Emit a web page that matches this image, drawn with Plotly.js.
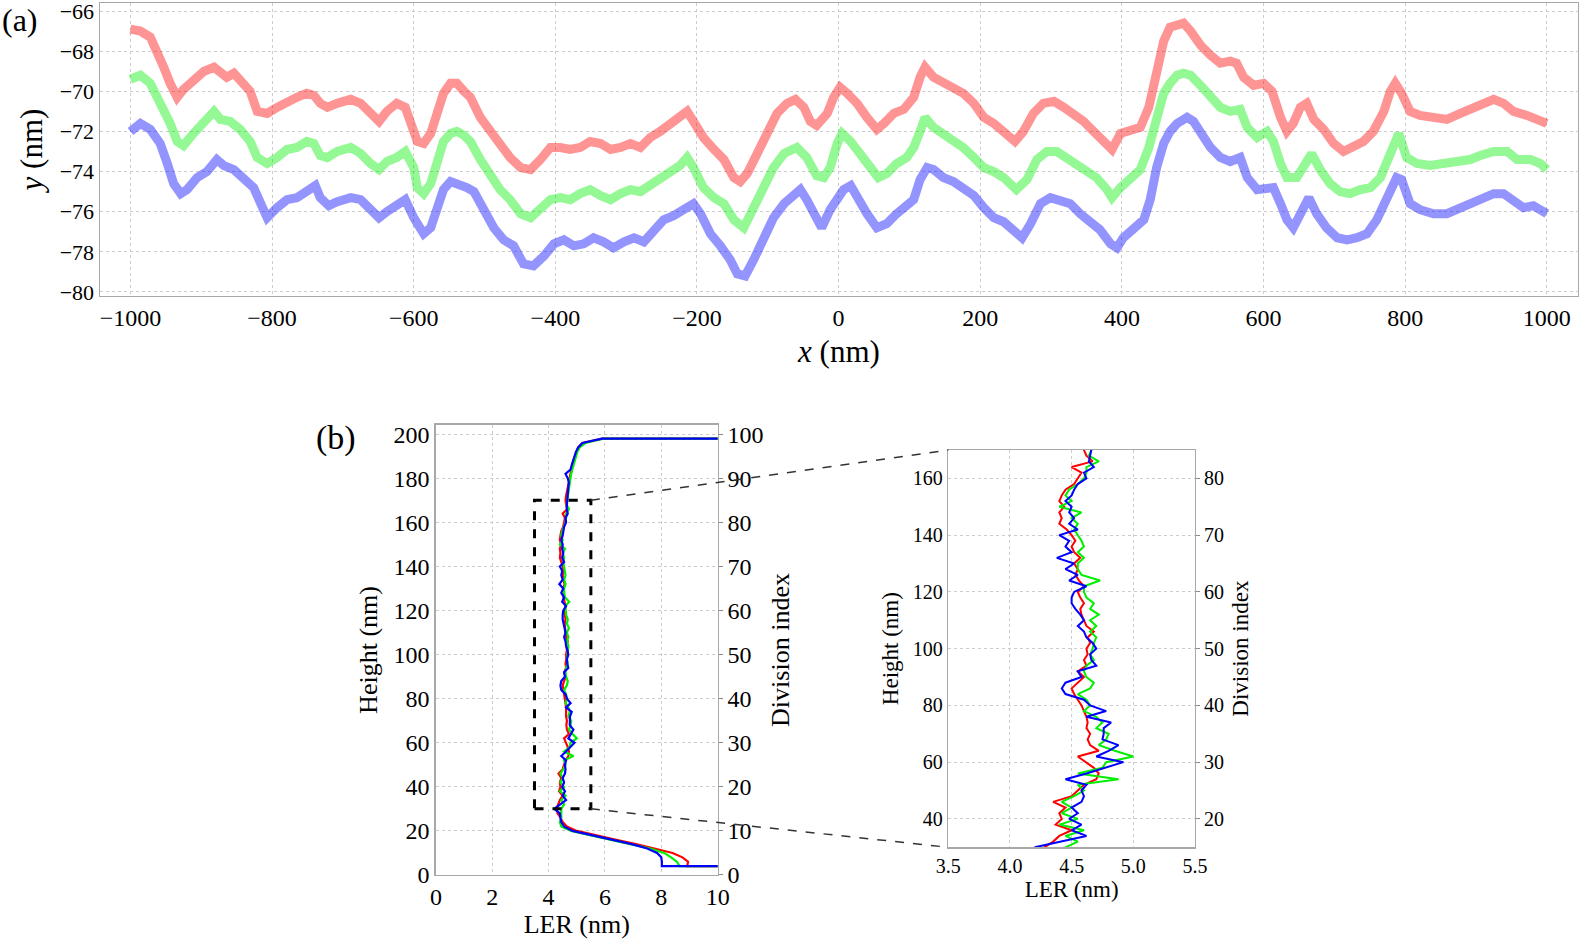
<!DOCTYPE html>
<html>
<head>
<meta charset="utf-8">
<script src="https://cdn.plot.ly/plotly-3.0.1.min.js"></script>
<style>html,body{margin:0;padding:0;background:#fff;}#chart{width:1580px;height:945px;}</style>
</head>
<body>
<div id="chart"></div>
<script>
// ---------- Panel (a): edge profiles ----------
const redX = [-1000,-986,-972,-962,-953,-944,-934,-925,-911,-896,-882,-873,-864,-854,-845,-831,-821,-807,-793,-779,-765,-751,-741,-732,-722,-708,-689,-675,-661,-649,-638,-624,-612,-600,-595,-586,-576,-567,-558,-548,-539,-529,-520,-506,-492,-478,-464,-449,-435,-421,-407,-393,-379,-365,-351,-336,-322,-308,-294,-280,-266,-252,-238,-224,-214,-205,-191,-176,-162,-148,-139,-129,-115,-101,-87,-73,-61,-49,-40,-31,-16,-7,2,12,26,40,54,64,78,92,106,115,122,134,148,162,176,191,205,219,233,249,261,275,289,304,318,332,346,360,374,386,398,412,426,438,449,459,468,478,487,497,511,525,539,553,562,572,586,600,612,624,633,642,652,661,671,685,699,713,727,741,755,770,779,786,795,807,821,840,859,878,897,911,925,939,953,972,986,1000];
const redY = [-66.9,-67.0,-67.3,-68.0,-68.8,-69.6,-70.3,-69.9,-69.4,-69.0,-68.8,-69.1,-69.3,-69.1,-69.4,-70.0,-71.0,-71.1,-70.8,-70.5,-70.3,-70.1,-70.2,-70.6,-70.8,-70.6,-70.4,-70.6,-71.1,-71.5,-71.0,-70.6,-70.8,-71.8,-72.5,-72.6,-72.1,-71.1,-70.1,-69.6,-69.6,-70.0,-70.3,-71.3,-72.0,-72.6,-73.3,-73.8,-73.9,-73.4,-72.8,-72.8,-72.9,-72.8,-72.5,-72.6,-72.9,-72.8,-72.6,-72.8,-72.3,-72.0,-71.6,-71.3,-71.0,-71.5,-72.3,-72.9,-73.4,-74.3,-74.5,-74.1,-73.1,-72.1,-71.1,-70.6,-70.4,-70.8,-71.5,-71.7,-71.1,-70.3,-69.8,-70.1,-70.6,-71.3,-71.9,-71.6,-71.1,-70.9,-70.3,-69.3,-68.8,-69.3,-69.6,-69.8,-70.1,-70.6,-71.3,-71.6,-72.0,-72.5,-72.0,-71.1,-70.6,-70.5,-70.8,-71.1,-71.5,-72.0,-72.5,-72.9,-72.1,-71.9,-71.8,-70.8,-69.1,-67.5,-66.8,-66.7,-66.6,-67.0,-67.7,-68.2,-68.6,-68.5,-68.6,-69.3,-69.7,-69.6,-70.0,-71.3,-72.0,-71.6,-70.8,-70.6,-71.4,-71.9,-72.6,-73.0,-72.7,-72.5,-72.0,-71.0,-70.0,-69.6,-70.1,-71.0,-71.2,-71.3,-71.4,-71.1,-70.8,-70.6,-70.4,-70.6,-71.0,-71.2,-71.4,-71.6];

const greenX = [-1000,-986,-972,-958,-944,-934,-925,-911,-896,-882,-873,-859,-845,-831,-821,-807,-793,-779,-765,-751,-741,-732,-722,-708,-689,-675,-661,-649,-638,-624,-612,-600,-595,-586,-576,-567,-558,-548,-539,-529,-520,-506,-492,-478,-464,-449,-435,-421,-407,-393,-379,-365,-351,-336,-322,-308,-294,-280,-266,-252,-238,-224,-214,-205,-191,-176,-162,-148,-134,-120,-106,-92,-77,-59,-45,-31,-21,-12,-2,5,17,31,45,56,68,82,96,106,115,122,134,148,162,176,191,205,219,233,251,266,280,294,308,322,336,350,364,379,386,398,412,426,438,449,459,468,478,487,497,511,525,539,553,567,577,591,605,614,624,633,647,661,668,680,694,708,722,737,751,765,779,791,802,817,835,854,873,892,906,925,944,958,977,991,1000];
const greenY = [-69.4,-69.2,-69.6,-70.5,-71.6,-72.5,-72.7,-72.1,-71.5,-71.0,-71.4,-71.5,-71.9,-72.5,-73.3,-73.6,-73.3,-72.9,-72.8,-72.5,-72.6,-73.2,-73.3,-73.0,-72.8,-73.1,-73.6,-73.9,-73.5,-73.3,-73.0,-73.8,-74.8,-75.1,-74.6,-73.6,-72.5,-72.1,-72.0,-72.2,-72.5,-73.4,-74.1,-74.9,-75.4,-76.1,-76.3,-75.8,-75.4,-75.3,-75.4,-75.1,-74.9,-75.2,-75.4,-75.1,-74.9,-75.0,-74.7,-74.4,-74.1,-73.7,-73.3,-73.8,-74.8,-75.3,-75.6,-76.4,-76.8,-75.8,-74.8,-73.8,-73.1,-72.8,-73.3,-74.2,-74.3,-73.8,-72.6,-72.1,-72.5,-73.1,-73.8,-74.3,-74.1,-73.6,-73.3,-72.8,-72.0,-71.3,-71.8,-72.1,-72.5,-72.8,-73.3,-73.8,-74.0,-74.3,-74.9,-74.4,-73.4,-73.0,-73.0,-73.3,-73.6,-73.9,-74.3,-74.9,-75.3,-74.8,-74.3,-73.9,-72.8,-71.3,-70.1,-69.6,-69.2,-69.1,-69.2,-69.7,-70.3,-70.8,-71.0,-70.9,-71.8,-72.3,-72.0,-72.5,-73.6,-74.3,-74.3,-73.4,-73.1,-73.9,-74.6,-75.0,-75.1,-74.9,-74.8,-74.3,-73.1,-72.1,-73.3,-73.6,-73.7,-73.6,-73.6,-73.4,-73.2,-73.0,-73.0,-73.4,-73.4,-73.6,-73.9];

const blueX = [-1000,-986,-972,-958,-948,-939,-929,-920,-906,-892,-878,-868,-854,-840,-826,-816,-807,-793,-779,-765,-751,-739,-732,-720,-708,-689,-675,-661,-649,-638,-624,-612,-600,-595,-586,-576,-567,-558,-548,-539,-525,-515,-501,-487,-473,-459,-445,-431,-416,-402,-388,-374,-360,-346,-332,-318,-303,-289,-275,-261,-247,-233,-219,-205,-195,-181,-167,-153,-143,-132,-120,-106,-92,-77,-63,-54,-45,-31,-24,-12,-2,7,17,26,40,54,68,82,96,106,115,125,134,148,162,176,191,205,219,233,247,259,271,285,299,313,327,341,355,369,384,393,402,416,431,440,449,459,468,478,492,501,511,525,539,553,567,577,591,605,614,624,633,642,652,664,675,689,704,718,732,746,760,774,788,795,807,821,840,859,878,897,911,925,939,953,967,981,1000];
const blueY = [-72.0,-71.6,-71.9,-72.6,-73.6,-74.6,-75.1,-74.9,-74.3,-74.0,-73.4,-73.7,-73.9,-74.4,-74.8,-75.6,-76.3,-75.8,-75.4,-75.3,-74.9,-74.7,-75.3,-75.7,-75.5,-75.3,-75.4,-75.9,-76.3,-76.0,-75.7,-75.4,-76.3,-76.6,-77.1,-76.8,-75.9,-74.9,-74.5,-74.6,-74.8,-75.0,-75.9,-76.8,-77.4,-77.7,-78.6,-78.7,-78.2,-77.6,-77.4,-77.7,-77.6,-77.3,-77.5,-77.8,-77.5,-77.3,-77.5,-76.9,-76.4,-76.2,-75.9,-75.6,-76.1,-77.1,-77.7,-78.4,-79.1,-79.2,-78.4,-77.3,-76.3,-75.6,-75.1,-74.9,-75.4,-76.4,-76.8,-75.9,-75.4,-74.9,-74.7,-75.3,-76.1,-76.8,-76.6,-76.1,-75.6,-75.4,-74.4,-73.8,-73.9,-74.3,-74.5,-74.9,-75.2,-75.8,-76.3,-76.5,-76.9,-77.3,-76.6,-75.6,-75.3,-75.4,-75.6,-76.1,-76.5,-76.9,-77.6,-77.8,-77.3,-76.9,-76.4,-75.4,-73.8,-72.6,-72.0,-71.6,-71.3,-71.5,-72.1,-72.8,-73.3,-73.5,-73.3,-74.3,-74.9,-74.8,-74.8,-75.6,-76.4,-76.8,-76.1,-75.3,-76.1,-76.8,-77.3,-77.4,-77.3,-77.1,-76.4,-75.3,-74.3,-74.4,-75.6,-75.9,-76.1,-76.1,-75.8,-75.6,-75.3,-75.1,-75.1,-75.4,-75.8,-75.7,-76.1];

const xTicksA = [-1000,-800,-600,-400,-200,0,200,400,600,800,1000];
const yTicksA = [-80,-78,-76,-74,-72,-70,-68,-66];

// ---------- Panel (b): LER versus height ----------
const heightNm = [4,4,6,8,10,12,14,16,18,20,22,24,26,28,
  30,32,34,36,38,40,42,44,46,48,50,52,54,56,58,60,62,64,66,68,
  70,72,74,76,78,80,82,84,86,88,90,92,94,96,98,100,102,104,106,108,
  110,112,114,116,118,120,122,124,126,128,130,132,134,136,138,140,142,144,146,148,
  150,152,154,156,158,160,162,164,166,168,170,
  172,174,176,178,180,182,184,186,188,190,192,194,196,
  198,198];
const lerRed = [30,8.92,8.95,8.75,8.4,7.8,7.1,6.4,5.7,5.0,4.65,4.5,4.42,4.32,
  4.28,4.35,4.40,4.50,4.37,4.42,4.40,4.45,4.35,4.50,4.55,4.60,4.70,4.72,4.68,4.62,4.55,4.72,4.65,4.63,
  4.65,4.62,4.63,4.62,4.60,4.58,4.55,4.52,4.50,4.55,4.60,4.55,4.62,4.60,4.63,4.62,4.65,4.63,4.68,4.62,
  4.60,4.58,4.57,4.60,4.57,4.55,4.60,4.56,4.53,4.55,4.52,4.57,4.52,4.50,4.53,4.50,4.46,4.40,4.42,4.40,
  4.44,4.40,4.42,4.45,4.52,4.55,4.58,4.50,4.67,4.62,4.60,
  4.62,4.65,4.68,4.70,4.74,4.76,4.80,4.84,4.88,4.93,4.98,5.05,5.2,
  5.9,30];
const lerGreen = [30,8.65,8.55,8.35,8.1,7.6,6.9,6.2,5.4,4.8,4.45,4.40,4.45,4.45,
  4.45,4.55,4.45,4.60,4.40,4.55,4.42,4.50,4.42,4.52,4.60,4.55,4.88,4.55,4.75,4.78,5.00,4.85,4.72,4.78,
  4.80,4.70,4.75,4.70,4.60,4.65,4.62,4.55,4.65,4.68,4.62,4.60,4.62,4.68,4.65,4.67,4.68,4.70,4.65,4.70,
  4.65,4.72,4.65,4.68,4.62,4.60,4.60,4.73,4.58,4.55,4.55,4.60,4.55,4.60,4.58,4.55,4.52,4.55,4.50,4.58,
  4.40,4.50,4.45,4.48,4.55,4.60,4.62,4.62,4.72,4.64,4.66,
  4.68,4.72,4.74,4.76,4.78,4.80,4.84,4.88,4.92,4.97,5.02,5.10,5.3,
  5.95,30];
const lerBlue = [30,8.02,8.02,8.0,7.85,7.5,6.95,6.25,5.45,4.85,4.55,4.45,4.42,4.40,
  4.20,4.40,4.62,4.50,4.58,4.48,4.55,4.50,4.58,4.60,4.58,4.62,4.45,4.62,4.78,4.92,4.70,4.80,4.88,4.75,
  4.76,4.76,4.82,4.62,4.78,4.65,4.60,4.45,4.42,4.45,4.58,4.55,4.70,4.66,4.65,4.70,4.67,4.62,4.60,4.55,
  4.60,4.57,4.53,4.50,4.50,4.52,4.62,4.48,4.55,4.45,4.52,4.38,4.50,4.45,4.48,4.40,4.55,4.48,4.52,4.48,
  4.50,4.45,4.50,4.52,4.55,4.62,4.60,4.68,4.64,4.65,4.66,
  4.66,4.68,4.70,4.72,4.68,4.60,4.78,4.82,4.86,4.92,4.97,5.05,5.2,
  5.9,30];

const fullLER = [0,10];
const fullHeight = [0,204.2];
const zoomLER = [3.5,5.5];
const zoomHeight = [30,170];

const RED = '#ff0000', GREEN = '#00ee00', BLUE = '#0000ff';
const FONT = '"Liberation Serif", "Times New Roman", Times, serif';
const f = (s) => ({family: FONT, size: s, color: '#000'});

function profile(x, y, c) {
  return {x: x, y: y, xaxis: 'x', yaxis: 'y', mode: 'lines', type: 'scatter',
    line: {color: c, width: 9}, opacity: 0.42, hoverinfo: 'skip', showlegend: false};
}
function ler(x, c, xa, ya, w) {
  return {x: x, y: heightNm, xaxis: xa, yaxis: ya, mode: 'lines', type: 'scatter',
    line: {color: c, width: w}, hoverinfo: 'skip', showlegend: false};
}
const traces = [
  profile(redX, redY, RED), profile(greenX, greenY, GREEN), profile(blueX, blueY, BLUE),
  ler(lerRed, RED, 'x2', 'y2', 2.2), ler(lerGreen, GREEN, 'x2', 'y2', 2.2), ler(lerBlue, BLUE, 'x2', 'y2', 2.2),
  ler(lerRed, RED, 'x3', 'y4', 2), ler(lerGreen, GREEN, 'x3', 'y4', 2), ler(lerBlue, BLUE, 'x3', 'y4', 2),
  {x: [], y: [], xaxis: 'x2', yaxis: 'y3', type: 'scatter', mode: 'lines', showlegend: false},
  {x: [], y: [], xaxis: 'x3', yaxis: 'y5', type: 'scatter', mode: 'lines', showlegend: false}
];

const frame = {showline: true, mirror: true, linecolor: '#a8a8a8', linewidth: 1.5,
  showgrid: true, gridcolor: '#cccccc', griddash: 'dot', gridwidth: 1, zeroline: false,
  ticks: '', ticklabeloverflow: 'allow', tickfont: f(24)};

const ax = {
  xaxis: Object.assign({}, frame, {domain: [0.0633, 0.9987], range: [-1043, 1044], anchor: 'y',
    tickvals: xTicksA, title: {text: '<i>x</i> (nm)', font: f(31), standoff: 10}}),
  yaxis: Object.assign({}, frame, {domain: [0.6868, 0.9968], range: [-80.2, -65.6], anchor: 'x',
    tickvals: yTicksA, tickfont: f(22), title: {text: '<i>y</i> (nm)', font: f(31), standoff: 8}}),
  xaxis2: Object.assign({}, frame, {domain: [0.2759, 0.4542], range: fullLER, anchor: 'y2', dtick: 2,
    title: {text: 'LER (nm)', font: f(26), standoff: 4}}),
  yaxis2: Object.assign({}, frame, {domain: [0.0741, 0.5503], range: fullHeight, anchor: 'x2', dtick: 20,
    title: {text: 'Height (nm)', font: f(26), standoff: 8}}),
  yaxis3: {overlaying: 'y2', side: 'right', anchor: 'x2', range: [fullHeight[0]/2, fullHeight[1]/2], dtick: 10,
    showgrid: false, zeroline: false, showline: false, ticks: 'outside', ticklen: 4, tickcolor: '#888',
    ticklabeloverflow: 'allow', tickfont: f(24),
    title: {text: 'Division index', font: f(26), standoff: 8}},
  xaxis3: Object.assign({}, frame, {domain: [0.6002, 0.7563], range: zoomLER, anchor: 'y4', dtick: 0.5, tickformat: '.1f',
    tickfont: f(20), title: {text: 'LER (nm)', font: f(23), standoff: 4}}),
  yaxis4: Object.assign({}, frame, {domain: [0.1034, 0.5238], range: zoomHeight, anchor: 'x3',
    tickvals: [40,60,80,100,120,140,160], tickfont: f(20),
    title: {text: 'Height (nm)', font: f(23), standoff: 8}}),
  yaxis5: {overlaying: 'y4', side: 'right', anchor: 'x3', range: [zoomHeight[0]/2, zoomHeight[1]/2],
    tickvals: [20,30,40,50,60,70,80], showgrid: false, zeroline: false, showline: false,
    ticks: 'outside', ticklen: 4, tickcolor: '#888', ticklabeloverflow: 'allow', tickfont: f(20),
    title: {text: 'Division index', font: f(23), standoff: 8}}
};

function px(axis, v) { return axis.domain[0] + (v - axis.range[0]) / (axis.range[1] - axis.range[0]) * (axis.domain[1] - axis.domain[0]); }

const shapes = [
  {type: 'rect', xref: 'x2', yref: 'y2', x0: zoomLER[0], x1: zoomLER[1], y0: zoomHeight[0], y1: zoomHeight[1],
    line: {color: '#000', width: 3, dash: 'dash'}},
  {type: 'line', xref: 'paper', yref: 'paper',
    x0: px(ax.xaxis2, zoomLER[1]), y0: px(ax.yaxis2, zoomHeight[1]),
    x1: px(ax.xaxis3, zoomLER[0]), y1: px(ax.yaxis4, zoomHeight[1]),
    line: {color: '#333', width: 1.5, dash: 'dash'}},
  {type: 'line', xref: 'paper', yref: 'paper',
    x0: px(ax.xaxis2, zoomLER[1]), y0: px(ax.yaxis2, zoomHeight[0]),
    x1: px(ax.xaxis3, zoomLER[0]), y1: px(ax.yaxis4, zoomHeight[0]),
    line: {color: '#333', width: 1.5, dash: 'dash'}}
];

const layout = Object.assign({
  width: 1580, height: 945, margin: {l: 0, r: 0, t: 0, b: 0},
  paper_bgcolor: '#fff', plot_bgcolor: '#fff', showlegend: false, hovermode: false,
  font: {family: FONT, color: '#000'},
  shapes: shapes,
  annotations: [
    {text: '(a)', xref: 'paper', yref: 'paper', x: 0.0, xanchor: 'left', y: 1.0, yanchor: 'top',
      showarrow: false, font: f(32)},
    {text: '(b)', xref: 'paper', yref: 'paper', x: 0.1987, xanchor: 'left', y: 0.5365, yanchor: 'middle',
      showarrow: false, font: f(34)}
  ]
}, ax);

Plotly.newPlot('chart', traces, layout, {staticPlot: true, displayModeBar: false});
</script>
</body>
</html>
